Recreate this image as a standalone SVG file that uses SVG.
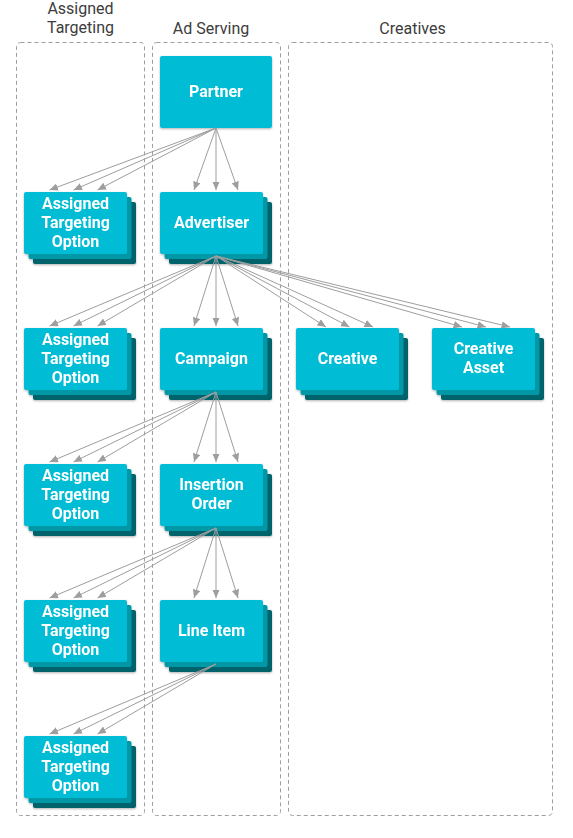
<svg xmlns="http://www.w3.org/2000/svg" width="573" height="838" viewBox="0 0 573 838">
<style>
.lane{fill:none;stroke:#9e9e9e;stroke-width:1;stroke-dasharray:4 3}
.hdr{font-family:Roboto,"Liberation Sans",sans-serif;font-size:16px;fill:#3c3c3c;text-anchor:middle}
.lbl{font-family:Roboto,"Liberation Sans",sans-serif;font-size:16px;font-weight:bold;fill:#ffffff;text-anchor:middle}
.l1{fill:#00bcd4}
.l2{fill:#0097a7}
.l3{fill:#00626a}
.edge{fill:none;stroke:#9e9e9e;stroke-width:1;marker-end:url(#ah)}
</style>
<defs>
<marker id="ah" markerUnits="userSpaceOnUse" markerWidth="9" markerHeight="8" refX="8.5" refY="3.75" orient="auto">
<path d="M0,0 L8.5,3.75 L0,7.5 z" fill="#9e9e9e"/>
</marker>
<filter id="sh" x="-10%" y="-10%" width="120%" height="130%">
<feDropShadow dx="0" dy="1" stdDeviation="0.8" flood-color="#000" flood-opacity="0.3"/>
</filter>
<g id="stack">
<rect class="l3" x="9" y="10" width="103" height="62" rx="2"/>
<rect class="l2" x="4.5" y="5" width="103" height="62" rx="2"/>
<rect class="l1" x="0" y="0" width="103" height="62" rx="2"/>
</g>
</defs>
<rect width="573" height="838" fill="#ffffff"/>

<g id="lanes">
<rect class="lane" x="16.5" y="42.5" width="128" height="773" rx="4"/>
<rect class="lane" x="152.5" y="42.5" width="128" height="773" rx="4"/>
<rect class="lane" x="288.5" y="42.5" width="264" height="773" rx="4"/>
<text class="hdr" x="80.5" y="14">Assigned</text>
<text class="hdr" x="80.5" y="32.5">Targeting</text>
<text class="hdr" x="211" y="34">Ad Serving</text>
<text class="hdr" x="412.5" y="34">Creatives</text>
</g>

<g id="partner" filter="url(#sh)">
<rect class="l1" x="160" y="56" width="112" height="72" rx="2"/>
<text class="lbl" x="216" y="96.5">Partner</text>
</g>

<g id="advertiser" filter="url(#sh)">
<use href="#stack" x="160" y="192"/>
<text class="lbl" x="211.5" y="227.5">Advertiser</text>
</g>
<g id="campaign" filter="url(#sh)">
<use href="#stack" x="160" y="328"/>
<text class="lbl" x="211.5" y="363.5">Campaign</text>
</g>
<g id="insertion-order" filter="url(#sh)">
<use href="#stack" x="160" y="464"/>
<text class="lbl" x="211.5" y="489.5">Insertion</text>
<text class="lbl" x="211.5" y="508.5">Order</text>
</g>
<g id="line-item" filter="url(#sh)">
<use href="#stack" x="160" y="600"/>
<text class="lbl" x="211.5" y="635.5">Line Item</text>
</g>

<g id="ato1" filter="url(#sh)">
<use href="#stack" x="24" y="192"/>
<text class="lbl" x="75.5" y="208.5">Assigned</text>
<text class="lbl" x="75.5" y="227.5">Targeting</text>
<text class="lbl" x="75.5" y="246.5">Option</text>
</g>
<g id="ato2" filter="url(#sh)">
<use href="#stack" x="24" y="328"/>
<text class="lbl" x="75.5" y="344.5">Assigned</text>
<text class="lbl" x="75.5" y="363.5">Targeting</text>
<text class="lbl" x="75.5" y="382.5">Option</text>
</g>
<g id="ato3" filter="url(#sh)">
<use href="#stack" x="24" y="464"/>
<text class="lbl" x="75.5" y="480.5">Assigned</text>
<text class="lbl" x="75.5" y="499.5">Targeting</text>
<text class="lbl" x="75.5" y="518.5">Option</text>
</g>
<g id="ato4" filter="url(#sh)">
<use href="#stack" x="24" y="600"/>
<text class="lbl" x="75.5" y="616.5">Assigned</text>
<text class="lbl" x="75.5" y="635.5">Targeting</text>
<text class="lbl" x="75.5" y="654.5">Option</text>
</g>
<g id="ato5" filter="url(#sh)">
<use href="#stack" x="24" y="736"/>
<text class="lbl" x="75.5" y="752.5">Assigned</text>
<text class="lbl" x="75.5" y="771.5">Targeting</text>
<text class="lbl" x="75.5" y="790.5">Option</text>
</g>

<g id="creative" filter="url(#sh)">
<use href="#stack" x="296" y="328"/>
<text class="lbl" x="347.5" y="363.5">Creative</text>
</g>
<g id="creative-asset" filter="url(#sh)">
<use href="#stack" x="432" y="328"/>
<text class="lbl" x="483.5" y="353.5">Creative</text>
<text class="lbl" x="483.5" y="372.5">Asset</text>
</g>

<g id="connectors">
<path class="edge" d="M216,128 L194,190"/>
<path class="edge" d="M216,128 L216,190"/>
<path class="edge" d="M216,128 L238,190"/>
<path class="edge" d="M216,128 L49.5,190"/>
<path class="edge" d="M216,128 L73.5,190"/>
<path class="edge" d="M216,128 L97.5,190"/>

<path class="edge" d="M216,256 L194,326"/>
<path class="edge" d="M216,256 L216,326"/>
<path class="edge" d="M216,256 L238,326"/>
<path class="edge" d="M216,256 L49.5,326"/>
<path class="edge" d="M216,256 L73.5,326"/>
<path class="edge" d="M216,256 L97.5,326"/>
<path class="edge" d="M216,256 L326,327"/>
<path class="edge" d="M216,256 L349.5,327"/>
<path class="edge" d="M216,256 L373,327"/>
<path class="edge" d="M216,256 L462,327"/>
<path class="edge" d="M216,256 L486,327"/>
<path class="edge" d="M216,256 L510,327"/>

<path class="edge" d="M216,392 L194,462"/>
<path class="edge" d="M216,392 L216,462"/>
<path class="edge" d="M216,392 L238,462"/>
<path class="edge" d="M216,392 L49.5,462"/>
<path class="edge" d="M216,392 L73.5,462"/>
<path class="edge" d="M216,392 L97.5,462"/>

<path class="edge" d="M216,528 L194,598"/>
<path class="edge" d="M216,528 L216,598"/>
<path class="edge" d="M216,528 L238,598"/>
<path class="edge" d="M216,528 L49.5,598"/>
<path class="edge" d="M216,528 L73.5,598"/>
<path class="edge" d="M216,528 L97.5,598"/>

<path class="edge" d="M216,664 L49.5,734"/>
<path class="edge" d="M216,664 L73.5,734"/>
<path class="edge" d="M216,664 L97.5,734"/>
</g>
</svg>
